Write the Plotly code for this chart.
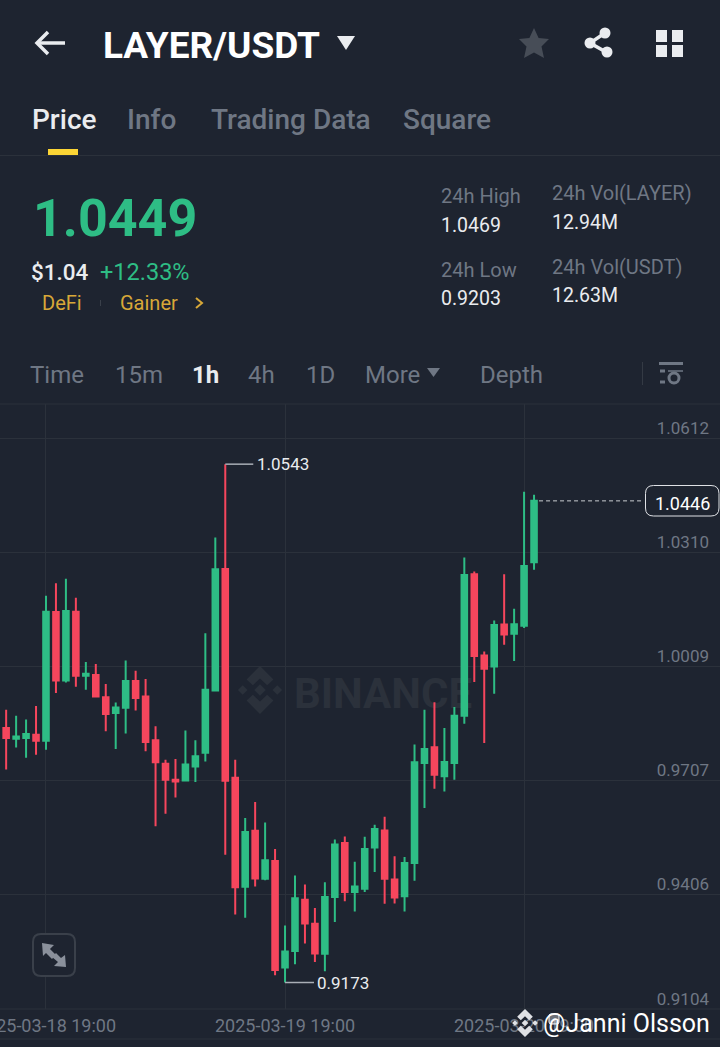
import pandas as pd
import plotly.graph_objects as go

W = 720
H = 1047

BG = "#1e2430"
GRID = "#2b313b"
GREEN = "#2ebd85"
RED = "#f6465d"
GRAY = "#6f7784"
LIGHT = "#eaecef"
YELLOW = "#fcd535"
GOLD = "#d8a838"
FONT = "Roboto"

# 1h candles, first one is 2025-03-18 15:00
opens = [0.9846, 0.9817, 0.9819, 0.9828, 0.9812, 1.0152, 0.9971, 1.0153, 0.9984, 0.9986,
         0.9927, 0.9885, 0.9899, 0.9970, 0.9929, 0.9813, 0.9751, 0.9709, 0.9707, 0.9744,
         0.9780, 0.9945, 1.0266, 0.9714, 0.9426, 0.9574, 0.9447, 0.9494, 0.9213, 0.9256,
         0.9392, 0.9328, 0.9249, 0.9399, 0.9542, 0.9412, 0.9421, 0.9530, 0.9575, 0.9445,
         0.9401, 0.9489, 0.9753, 0.9795, 0.9718, 0.9753, 0.9878, 1.0252, 1.0037, 1.0008,
         1.0119, 1.0095, 1.0116, 1.0284]
highs = [0.9894, 0.9878, 0.9868, 0.9904, 1.0195, 1.0228, 1.0240, 1.0190, 1.0020, 1.0015,
         0.9962, 0.9913, 1.0024, 0.9997, 0.9975, 0.9850, 0.9762, 0.9764, 0.9839, 0.9813,
         1.0096, 1.0349, 1.0543, 0.9762, 0.9608, 0.9650, 0.9596, 0.9526, 0.9324, 0.9456,
         0.9432, 0.9370, 0.9438, 0.9551, 0.9559, 0.9492, 0.9558, 0.9590, 0.9611, 0.9507,
         0.9505, 0.9802, 0.9894, 0.9914, 0.9846, 0.9901, 1.0296, 1.0259, 1.0048, 1.0130,
         1.0252, 1.0161, 1.0470, 1.0462]
lows = [0.9736, 0.9794, 0.9767, 0.9775, 0.9788, 0.9938, 0.9966, 0.9955, 0.9947, 0.9927,
        0.9837, 0.9790, 0.9831, 0.9892, 0.9784, 0.9586, 0.9619, 0.9662, 0.9705, 0.9703,
        0.9757, 0.9945, 0.9511, 0.9353, 0.9344, 0.9427, 0.9443, 0.9192, 0.9173, 0.9221,
        0.9276, 0.9227, 0.9203, 0.9333, 0.9388, 0.9361, 0.9412, 0.9465, 0.9381, 0.9382,
        0.9361, 0.9442, 0.9634, 0.9685, 0.9678, 0.9709, 0.9857, 0.9967, 0.9806, 0.9936,
        1.0066, 1.0023, 1.0110, 1.0264]
closes = [0.9819, 0.9823, 0.9830, 0.9812, 1.0153, 0.9971, 1.0155, 0.9984, 0.9989, 0.9929,
          0.9883, 0.9900, 0.9970, 0.9925, 0.9809, 0.9755, 0.9709, 0.9704, 0.9749, 0.9771,
          0.9947, 1.0265, 0.9706, 0.9425, 0.9571, 0.9448, 0.9496, 0.9206, 0.9255, 0.9396,
          0.9329, 0.9250, 0.9399, 0.9538, 0.9412, 0.9427, 0.9526, 0.9579, 0.9447, 0.9398,
          0.9489, 0.9755, 0.9790, 0.9722, 0.9756, 0.9878, 1.0250, 1.0036, 1.0002, 1.0118,
          1.0093, 1.0120, 1.0274, 1.0446]

price_ticks = [1.0612, 1.0310, 1.0009, 0.9707, 0.9406, 0.9104]
price_labels = ["1.0612", "1.0310", "1.0009", "0.9707", "0.9406", "0.9104"]
date_ticks = ["2025-03-18 19:00", "2025-03-19 19:00", "2025-03-20 19:00"]

high_mark = 1.0543
low_mark = 0.9173
last_price = 1.0446


def xp(x):
    return x / W


def yp(y):
    return 1 - y / H


def path(*parts):
    # parts are "M"/"L"/"Q"/"Z" letters and (x, y) pixel tuples
    out = []
    for p in parts:
        if isinstance(p, str):
            out.append(p)
        else:
            out.append(f"{xp(p[0]):.5f},{yp(p[1]):.5f}")
    return " ".join(out)


def fill_shape(d, color, layer="above"):
    return dict(type="path", path=d, xref="paper", yref="paper", fillcolor=color,
                line=dict(width=0), layer=layer)


def line_shape(x0, y0, x1, y1, color, width=1.5, layer="above"):
    return dict(type="line", xref="paper", yref="paper", x0=xp(x0), y0=yp(y0), x1=xp(x1), y1=yp(y1),
                line=dict(color=color, width=width), layer=layer)


def circle(cx, cy, r, fill, edge=None, width=0):
    return dict(type="circle", xref="paper", yref="paper", x0=xp(cx - r), x1=xp(cx + r),
                y0=yp(cy + r), y1=yp(cy - r), fillcolor=fill,
                line=dict(color=edge or fill, width=width))


def round_rect(x0, y0, x1, y1, r):
    return path("M", (x0 + r, y0), "L", (x1 - r, y0), "Q", (x1, y0), (x1, y0 + r),
                "L", (x1, y1 - r), "Q", (x1, y1), (x1 - r, y1),
                "L", (x0 + r, y1), "Q", (x0, y1), (x0, y1 - r),
                "L", (x0, y0 + r), "Q", (x0, y0), (x0 + r, y0), "Z")


def diamond(cx, cy, r):
    return path("M", (cx, cy - r), "L", (cx + r, cy), "L", (cx, cy + r), "L", (cx - r, cy), "Z")


def binance_logo(cx, cy, s, color, layer):
    out = [fill_shape(diamond(cx, cy, s * 0.24), color, layer),
           fill_shape(diamond(cx - s * 0.72, cy, s * 0.2), color, layer),
           fill_shape(diamond(cx + s * 0.72, cy, s * 0.2), color, layer)]
    for sign in (-1, 1):
        out.append(fill_shape(path("M", (cx, cy + sign * s), "L", (cx + s * 0.56, cy + sign * s * 0.44),
                                   "L", (cx + s * 0.3, cy + sign * s * 0.2), "L", (cx, cy + sign * s * 0.48),
                                   "L", (cx - s * 0.3, cy + sign * s * 0.2),
                                   "L", (cx - s * 0.56, cy + sign * s * 0.44), "Z"), color, layer))
    return out


def label(text, x, y, size, color, weight=400, anchor="left"):
    # annotations have a little padding, xshift takes it back out
    shift = -2 if anchor == "left" else 0
    return dict(text=text, x=xp(x), y=yp(y), xref="paper", yref="paper", showarrow=False, xshift=shift,
                xanchor=anchor, yanchor="middle", font=dict(family=FONT, size=size, color=color, weight=weight))


times = pd.date_range("2025-03-18 15:00", periods=len(opens), freq="h")
hour = pd.Timedelta(hours=1)

fig = go.Figure()
fig.add_trace(go.Candlestick(
    x=times, open=opens, high=highs, low=lows, close=closes,
    increasing=dict(line=dict(color=GREEN, width=2), fillcolor=GREEN),
    decreasing=dict(line=dict(color=RED, width=2), fillcolor=RED),
    whiskerwidth=0, showlegend=False, hoverinfo="skip",
))

shapes = []
# header lines
shapes.append(line_shape(0, 155.5, W, 155.5, "#2b313b", 1))
shapes.append(fill_shape(path("M", (48, 149), "L", (78, 149), "L", (78, 155), "L", (48, 155), "Z"), YELLOW))
shapes.append(line_shape(0, 404, W, 404, GRID, 1))
shapes.append(line_shape(0, 1039, W, 1039, GRID, 1))
shapes.append(line_shape(0, 1009, W, 1009, GRID, 1))

# back arrow
shapes.append(line_shape(37, 43, 65, 43, LIGHT, 3.5))
shapes.append(dict(type="path", xref="paper", yref="paper",
                   path=path("M", (48, 32), "L", (37, 43), "L", (48, 54)),
                   line=dict(color=LIGHT, width=3.5)))
# title dropdown
shapes.append(fill_shape(path("M", (337, 36), "L", (355, 36), "L", (346, 50), "Z"), LIGHT))
# star
shapes.append(fill_shape(path("M", (534, 28), "L", (538.6, 38), "L", (549, 39), "L", (541.5, 46.5), "L", (544, 58),
                              "L", (534, 52.5), "L", (524, 58), "L", (526.5, 46.5), "L", (519, 39), "L", (529.4, 38), "Z"),
                         "#474d57"))
# share
shapes.append(dict(type="path", xref="paper", yref="paper",
                   path=path("M", (605, 33), "L", (590, 43), "L", (606, 52)),
                   line=dict(color=LIGHT, width=3.5)))
shapes.append(circle(605, 33, 5.5, LIGHT))
shapes.append(circle(590, 43, 5.5, LIGHT))
shapes.append(circle(607, 52, 5.5, LIGHT))
# grid icon
for x0, x1 in ((656, 667), (672, 683)):
    for y0, y1 in ((30, 42), (45, 57)):
        shapes.append(fill_shape(path("M", (x0, y0), "L", (x1, y0), "L", (x1, y1), "L", (x0, y1), "Z"), LIGHT))

# gainer chevron and tag divider
shapes.append(dict(type="path", xref="paper", yref="paper",
                   path=path("M", (196, 298), "L", (202, 303), "L", (196, 308)),
                   line=dict(color=GOLD, width=2)))
shapes.append(line_shape(100.5, 300, 100.5, 306, "#3a404a", 1))

# interval row
shapes.append(fill_shape(path("M", (427, 368), "L", (440, 368), "L", (433.5, 377), "Z"), GRAY))
shapes.append(line_shape(642.5, 362, 642.5, 385, "#343a44", 1))
shapes.append(line_shape(659, 363.5, 683, 363.5, GRAY, 3))
shapes.append(line_shape(660, 371, 665, 371, GRAY, 3))
shapes.append(line_shape(660, 382, 665, 382, GRAY, 3))
shapes.append(line_shape(668, 371, 683, 371, GRAY, 1.5))
shapes.append(circle(674, 378, 5, BG, GRAY, 3))

# expand button
shapes.append(dict(type="path", xref="paper", yref="paper", path=round_rect(33, 934, 75, 976, 8),
                   fillcolor=BG, line=dict(color="#3a404a", width=2)))
shapes.append(fill_shape(path("M", (42, 943), "L", (54, 945), "L", (50, 949), "L", (56, 955), "L", (52, 959),
                              "L", (46, 953), "L", (43, 956), "Z"), "#8a909b"))
shapes.append(fill_shape(path("M", (66, 967), "L", (54, 966), "L", (58, 962), "L", (52, 957), "L", (56, 953),
                              "L", (61, 958), "L", (65, 955), "Z"), "#8a909b"))

# watermark stays behind the candles
shapes += binance_logo(260, 690, 24, "#2b313b", "below")
shapes.append(dict(type="rect", xref="paper", yref="paper", x0=xp(290), x1=xp(476), y0=yp(708), y1=yp(672),
                   line=dict(width=0), layer="below",
                   label=dict(text="BINANCE", textposition="middle center",
                              font=dict(family=FONT, size=42, color="#2b313b", weight=700))))

# high / low / last price markers
shapes.append(dict(type="line", xref="x", yref="y", xsizemode="pixel", xanchor=times[22], x0=0, x1=28,
                   y0=high_mark, y1=high_mark, line=dict(color="#a9aeb6", width=1.5)))
shapes.append(dict(type="line", xref="x", yref="y", xsizemode="pixel", xanchor=times[28], x0=0, x1=29,
                   y0=low_mark, y1=low_mark, line=dict(color="#a9aeb6", width=1.5)))
shapes.append(dict(type="line", xref="x", yref="y", xsizemode="pixel", xanchor=times[53], x0=5, x1=110,
                   y0=last_price, y1=last_price, line=dict(color="#c9ccd1", width=1, dash="4px,3px")))
shapes.append(dict(type="path", xref="paper", yref="paper", path=round_rect(645.5, 485.5, 719, 516, 8),
                   fillcolor=BG, line=dict(color="#dfe1e5", width=1)))

# corner logo and the small mark under the name
shapes += binance_logo(525, 1023, 14, "#dfe1e5", "above")
shapes.append(dict(type="path", xref="paper", yref="paper", path=round_rect(549, 1014, 559, 1024, 2),
                   fillcolor="rgba(255,255,255,0.35)", line=dict(color="#ffffff", width=1)))

annotations = [
    label("LAYER/USDT", 103, 45, 37, "#ffffff", 700),
    label("Price", 32, 120, 28, LIGHT, 500),
    label("Info", 127, 120, 28, GRAY, 500),
    label("Trading Data", 211, 120, 28, GRAY, 500),
    label("Square", 403, 120, 28, GRAY, 500),
    label("1.0449", 33, 218, 52, GREEN, 700),
    label("$1.04", 31, 272, 22.5, LIGHT, 500),
    label("+12.33%", 100, 272, 23.5, GREEN),
    label("DeFi", 42, 303, 20, GOLD),
    label("Gainer", 120, 303, 20, GOLD),
    label("24h High", 441, 196, 20, GRAY),
    label("1.0469", 441, 225, 19.5, LIGHT),
    label("24h Low", 441, 270, 20, GRAY),
    label("0.9203", 441, 299, 19.5, LIGHT),
    label("24h Vol(LAYER)", 552, 193, 20, GRAY),
    label("12.94M", 552, 222, 19.5, LIGHT),
    label("24h Vol(USDT)", 552, 267, 20, GRAY),
    label("12.63M", 552, 296, 19.5, LIGHT),
    label("Time", 30, 375, 24, GRAY),
    label("15m", 115, 375, 24, GRAY),
    label("1h", 192, 375, 24, LIGHT, 700),
    label("4h", 248, 375, 24, GRAY),
    label("1D", 306, 375, 24, GRAY),
    label("More", 365, 375, 24, GRAY),
    label("Depth", 480, 375, 24, GRAY),
    label("1.0446", 682, 504, 18, "#ffffff", 400, "center"),
    label("@Janni Olsson", 543, 1023, 25, "#ffffff"),
    dict(text=f"{high_mark:.4f}", x=times[22], y=high_mark, xref="x", yref="y", xshift=30, showarrow=False,
         xanchor="left", yanchor="middle", font=dict(family=FONT, size=17, color=LIGHT)),
    dict(text=f"{low_mark:.4f}", x=times[28], y=low_mark, xref="x", yref="y", xshift=30, showarrow=False,
         xanchor="left", yanchor="middle", font=dict(family=FONT, size=17, color=LIGHT)),
]

fig.update_layout(
    width=W, height=H,
    margin=dict(l=0, r=0, t=0, b=0, autoexpand=False),
    paper_bgcolor=BG, plot_bgcolor=BG,
    showlegend=False,
    boxgap=0.2,
    shapes=shapes, annotations=annotations,
    xaxis=dict(
        domain=[0, 1],
        range=[times[0] - 0.617 * hour, times[0] + 71.67 * hour],
        rangeslider=dict(visible=False),
        tickmode="array", tickvals=pd.to_datetime(date_ticks), ticktext=date_ticks,
        tickfont=dict(family=FONT, size=18, color=GRAY),
        ticks="", ticklabelstandoff=4, ticklabeloverflow="allow", automargin=False,
        showgrid=True, gridcolor=GRID, gridwidth=1, zeroline=False, showline=False,
    ),
    yaxis=dict(
        domain=[1 - 1009 / H, 1 - 404 / H],
        range=[0.9103, 1.0702],
        side="right", ticklabelposition="inside",
        tickmode="array", tickvals=price_ticks, ticktext=price_labels,
        tickfont=dict(family=FONT, size=17, color=GRAY),
        ticks="", ticklabelstandoff=8, ticklabelshift=-10, automargin=False,
        showgrid=True, gridcolor=GRID, gridwidth=1, zeroline=False, showline=False,
    ),
)

fig.write_html("out.html", config={"displayModeBar": False},
               post_script="document.body.style.margin='0';document.body.style.background='%s';" % BG)
